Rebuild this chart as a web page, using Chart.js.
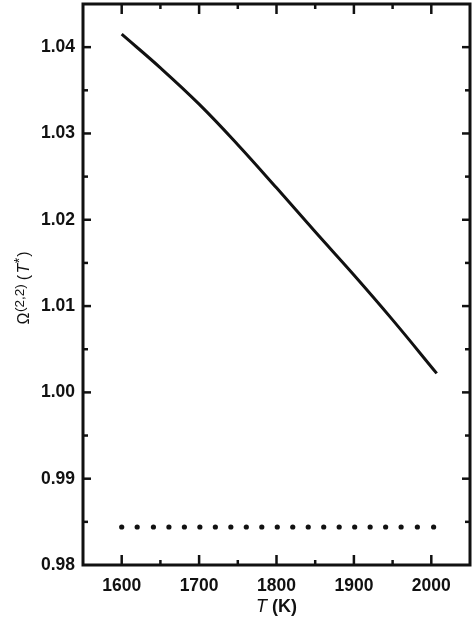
<!DOCTYPE html>
<html>
<head>
<meta charset="utf-8">
<script src="https://cdn.jsdelivr.net/npm/chart.js@4"></script>
<style>
html,body{margin:0;padding:0;background:#fff;}
#wrap{width:474px;height:618px;}
</style>
</head>
<body>
<div id="wrap"><canvas id="c" width="474" height="618"></canvas></div>
<script>
// Solid curve: Omega(2,2)(T*) vs T (K)
const tempSolid = [1600, 1650, 1700, 1750, 1800, 1850, 1900, 1950, 2007];
const omegaSolid = [1.0415, 1.0376, 1.0334, 1.0287, 1.0237, 1.0186, 1.0136, 1.0084, 1.0022];
// Dotted series
const tempDots = [1600, 1620, 1641, 1661, 1681, 1701, 1721, 1741, 1761, 1781, 1801, 1821, 1841, 1861, 1881, 1901, 1921, 1941, 1961, 1982, 2003];
const omegaDots = [0.9844, 0.9844, 0.9844, 0.9844, 0.9844, 0.9844, 0.9844, 0.9844, 0.9844, 0.9844, 0.9844, 0.9844, 0.9844, 0.9844, 0.9844, 0.9844, 0.9844, 0.9844, 0.9844, 0.9844, 0.9844];
// Tick labels
const xTicks = [1600, 1700, 1800, 1900, 2000];
const yTicks = [0.98, 0.99, 1.00, 1.01, 1.02, 1.03, 1.04];
const xMinorTicks = [1550, 1650, 1750, 1850, 1950, 2050];
const yMinorTicks = [0.985, 0.995, 1.005, 1.015, 1.025, 1.035, 1.045];

const FONT = "'Liberation Sans', Arial, sans-serif";

const framePlugin = {
  id: 'frame',
  afterDatasetsDraw(chart) {
    const ctx = chart.ctx;
    const a = chart.chartArea;
    const xs = chart.scales.x, ys = chart.scales.y;
    ctx.save();
    ctx.strokeStyle = '#111';
    ctx.lineCap = 'butt';
    ctx.lineWidth = 2.5;
    const tick = (v, len, isX) => {
      if (isX) {
        const px = xs.getPixelForValue(v);
        if (px < a.left + 1 || px > a.right - 1) return;
        ctx.beginPath(); ctx.moveTo(px, a.bottom); ctx.lineTo(px, a.bottom - len); ctx.stroke();
        ctx.beginPath(); ctx.moveTo(px, a.top); ctx.lineTo(px, a.top + len); ctx.stroke();
      } else {
        const py = ys.getPixelForValue(v);
        if (py < a.top + 1 || py > a.bottom - 1) return;
        ctx.beginPath(); ctx.moveTo(a.left, py); ctx.lineTo(a.left + len, py); ctx.stroke();
        ctx.beginPath(); ctx.moveTo(a.right, py); ctx.lineTo(a.right - len, py); ctx.stroke();
      }
    };
    xTicks.forEach(v => tick(v, 10, true));
    xMinorTicks.forEach(v => tick(v, 5, true));
    yTicks.forEach(v => tick(v, 8, false));
    yMinorTicks.forEach(v => tick(v, 5, false));
    ctx.lineWidth = 3;
    ctx.strokeRect(a.left, a.top, a.right - a.left, a.bottom - a.top);
    ctx.restore();
  },
  afterDraw(chart) {
    const ctx = chart.ctx;
    const a = chart.chartArea;
    ctx.save();
    ctx.fillStyle = '#111';
    ctx.textBaseline = 'alphabetic';
    const xParts = [
      {t: 'T', f: 'italic 18px ' + FONT, dy: 0, gap: 0},
      {t: ' (K)', f: 'bold 18px ' + FONT, dy: 0, gap: 0}
    ];
    drawParts(ctx, xParts, (a.left + a.right) / 2, 612);
    ctx.translate(29, 288);
    ctx.rotate(-Math.PI / 2);
    const yParts = [
      {t: 'Ω', f: '16px ' + FONT, dy: 0, gap: 0.5},
      {t: '(2,2)', f: '13.5px ' + FONT, dy: -5, gap: 4},
      {t: '(', f: '16px ' + FONT, dy: 0, gap: 1.5},
      {t: 'T', f: 'italic 16px ' + FONT, dy: 0, gap: 0.5},
      {t: '*', f: '14px ' + FONT, dy: -5, gap: 1},
      {t: ')', f: '16px ' + FONT, dy: 0, gap: 0}
    ];
    drawParts(ctx, yParts, 0, 0);
    ctx.restore();
  }
};

function drawParts(ctx, parts, cx, by) {
  let total = 0;
  parts.forEach(p => { ctx.font = p.f; p.w = ctx.measureText(p.t).width; total += p.w + p.gap; });
  total -= parts[parts.length - 1].gap;
  let x = cx - total / 2;
  ctx.textAlign = 'left';
  parts.forEach(p => { ctx.font = p.f; ctx.fillText(p.t, x, by + p.dy); x += p.w + p.gap; });
}

new Chart(document.getElementById('c'), {
  type: 'scatter',
  data: {
    datasets: [
      {
        data: tempSolid.map((t, i) => ({x: t, y: omegaSolid[i]})),
        showLine: true,
        borderColor: '#111',
        borderWidth: 3,
        pointRadius: 0,
        tension: 0.4,
        fill: false
      },
      {
        data: tempDots.map((t, i) => ({x: t, y: omegaDots[i]})),
        showLine: false,
        pointRadius: 2.6,
        pointBackgroundColor: '#111',
        pointBorderWidth: 0
      }
    ]
  },
  options: {
    responsive: false,
    animation: false,
    layout: {padding: {top: 3, right: 3, left: 0, bottom: 0}},
    plugins: {legend: {display: false}, tooltip: {enabled: false}},
    scales: {
      x: {
        type: 'linear',
        min: 1550, max: 2050,
        afterBuildTicks: s => { s.ticks = xTicks.map(v => ({value: v})); },
        afterFit: s => { s.height = 53; s.paddingLeft = 0; s.paddingRight = 0; },
        grid: {display: false, drawTicks: false},
        border: {display: false},
        ticks: {
          color: '#111', padding: 11,
          font: {family: FONT, size: 17.5, weight: 'bold'},
          callback: v => String(v)
        }
      },
      y: {
        type: 'linear',
        min: 0.98, max: 1.045,
        afterBuildTicks: s => { s.ticks = yTicks.map(v => ({value: v})); },
        afterFit: s => { s.width = 83; s.paddingTop = 0; s.paddingBottom = 0; },
        grid: {display: false, drawTicks: false},
        border: {display: false},
        ticks: {
          color: '#111', padding: 8,
          font: {family: FONT, size: 17.5, weight: 'bold'},
          callback: v => Number(v).toFixed(2)
        }
      }
    }
  },
  plugins: [framePlugin]
});
</script>
</body>
</html>
